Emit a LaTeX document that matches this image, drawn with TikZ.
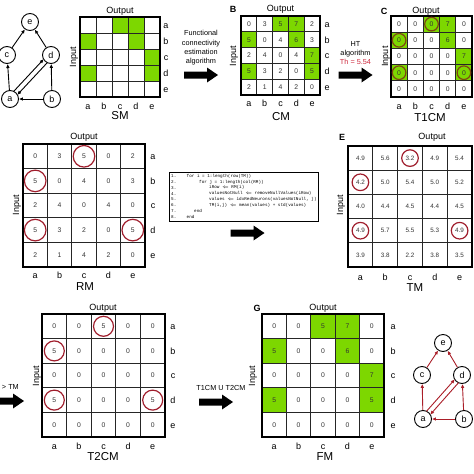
\documentclass[tikz,border=0pt]{standalone}
\usepackage{fontspec}
\setmainfont{Liberation Sans}
\newfontfamily\codefont{Liberation Mono}
\usetikzlibrary{calc,arrows.meta}
\definecolor{cellgreen}{RGB}{125,215,0}
\definecolor{ringred}{RGB}{160,30,45}
\definecolor{ringbrown}{RGB}{125,70,20}
\definecolor{thred}{RGB}{205,40,60}
\definecolor{edgered}{RGB}{170,30,40}
\newcommand\MatGreen[1]{\foreach \mc/\mr in {#1}{\fill[cellgreen] ({(\mc-1)*\mcw},{(\mr-1)*\mch}) rectangle ({\mc*\mcw},{\mr*\mch});}}
\newcommand\MatGrid{\foreach \k in {1,2,3,4}{\draw[innerline] ({\k*\mcw},0) -- ({\k*\mcw},{5*\mch}); \draw[innerline] (0,{\k*\mch}) -- ({5*\mcw},{\k*\mch});}\draw[outerline] (0,0) rectangle ({5*\mcw},{5*\mch});}
\newcommand\MatVals[3]{\foreach \mrow [count=\mr] in {#3}{\foreach \mv [count=\mc] in \mrow {\node[#2] (#1-\mr-\mc) at ({(\mc-0.5)*\mcw},{(\mr-0.5)*\mch}) {\mv};}}}
\newcommand\MatRings[3]{\foreach \mc/\mr in {#1}{\draw[#2] ({(\mc-0.5)*\mcw},{(\mr-0.5)*\mch}) circle (#3);}}
\newcommand\RowLabels[2]{\foreach \lab [count=\mr] in {a,b,c,d,e}{\node[axislab] (#1-r\mr) at (#2,{(\mr-0.5)*\mch}) {\lab};}}
\newcommand\ColLabels[2]{\foreach \lab [count=\mc] in {a,b,c,d,e}{\node[axislab] (#1-c\mc) at ({(\mc-0.5)*\mcw},#2) {\lab};}}
\tikzset{fatarrow/.pic={\fill[black] (-17,-3.5) -- (6,-3.5) -- (6,-7.5) -- (17,0) -- (6,7.5) -- (6,3.5) -- (-17,3.5) -- cycle;}}
\begin{document}
\begin{tikzpicture}[x=1pt,y=-1pt,
  cellnum/.style={font=\fontsize{6.8}{7}\selectfont,text=black!80,inner sep=0},
  tmnum/.style={font=\fontsize{6.3}{7}\selectfont,text=black!80,inner sep=0},
  axislab/.style={font=\fontsize{9}{10}\selectfont,inner sep=0,text height=6.6pt,text depth=0pt},
  titlelab/.style={font=\fontsize{9}{10}\selectfont,inner sep=0},
  matname/.style={font=\fontsize{11.5}{12}\selectfont,inner sep=0},
  panel/.style={font=\bfseries\fontsize{9}{10}\selectfont,inner sep=0},
  innerline/.style={line width=0.8pt,black!85},
  outerline/.style={line width=1.4pt,black},
  ring/.style={draw=ringred,line width=1.2pt},
  ringdark/.style={draw=ringbrown,line width=1.2pt},
  gnode/.style={circle,draw,fill=white,line width=0.9pt,minimum size=17pt,inner sep=0,font=\fontsize{9}{10}\selectfont},
  garrow/.style={line width=0.9pt,-{Latex[length=4pt,width=3.6pt]}},
  arrowtext/.style={font=\fontsize{7.3}{9.3}\selectfont,align=center,inner sep=0},
  codeline/.style={font=\codefont\fontsize{4.3}{5}\selectfont,anchor=west,inner sep=0},
]
\useasboundingbox (0,0) rectangle (474,474);
\clip (0,0) rectangle (474,474);
\fill[white] (0,0) rectangle (474,474);

% ---------- graph 1 ----------
\node[gnode] (g1e) at (30,22) {e};
\node[gnode] (g1c) at (7,55) {c};
\node[gnode] (g1d) at (51,55) {d};
\node[gnode] (g1a) at (10,99) {a};
\node[gnode] (g1b) at (52,99) {b};
\draw[garrow] (g1c) -- (g1e);
\draw[garrow] (g1d) -- (g1e);
\draw[garrow] (g1a) -- (g1c);
\draw[garrow] (g1b) -- (g1d);
\draw[garrow] (g1b) -- (g1a);
\draw[garrow,shorten <=8pt,shorten >=8pt] ($(g1a.center)!2.5pt!90:(g1d.center)$) -- ($(g1d.center)!2.5pt!-90:(g1a.center)$);
\draw[garrow,shorten <=8pt,shorten >=8pt] ($(g1d.center)!2.5pt!90:(g1a.center)$) -- ($(g1a.center)!2.5pt!-90:(g1d.center)$);

% ---------- SM ----------
\begin{scope}[shift={(80,17)}]
\def\mcw{16}\def\mch{16}
\MatGreen{3/1,4/1,1/2,4/2,5/3,1/4,5/4}
\MatGrid
\RowLabels{sm}{86}
\ColLabels{sm}{89}
\node[titlelab] (sm-out) at (40,-6) {Output};
\node[titlelab,rotate=90] (sm-in) at (-6,40) {Input};
\node[matname] (sm-name) at (40,99) {SM};
\end{scope}

\node[arrowtext] (txt1) at (201,48) {Functional\\connectivity\\estimation\\algorithm};
\pic (arr1) at (201,75) {fatarrow};

% ---------- CM ----------
\begin{scope}[shift={(241,16)}]
\def\mcw{15.8}\def\mch{15.8}
\MatGreen{3/1,4/1,1/2,4/2,5/3,1/4,5/4}
\MatGrid
\MatVals{cm}{cellnum}{{0,3,5,7,2},{5,0,4,6,3},{2,4,0,4,7},{5,3,2,0,5},{2,1,4,2,0}}
\RowLabels{cm}{86}
\ColLabels{cm}{87}
\node[titlelab] (cm-out) at (39.5,-6.5) {Output};
\node[titlelab,rotate=90] (cm-in) at (-7,40) {Input};
\node[matname] (cm-name) at (40,101) {CM};
\node[panel] (pB) at (-8,-7) {B};
\end{scope}

\node[arrowtext] (txt2) at (355.5,53) {HT\\algorithm\\{\color{thred}Th = 5.54}};
\pic (arr2) at (355.5,75) {fatarrow};

% ---------- T1CM ----------
\begin{scope}[shift={(391,16)}]
\def\mcw{16.2}\def\mch{16.2}
\MatGreen{3/1,4/1,1/2,4/2,5/3,1/4,5/4}
\MatGrid
\MatVals{tone}{cellnum}{{0,0,0,7,0},{0,0,0,6,0},{0,0,0,0,7},{0,0,0,0,0},{0,0,0,0,0}}
\MatRings{3/1,1/2,1/4,5/4}{ringdark}{6.8}
\ColLabels{tone}{90}
\node[titlelab] (tone-out) at (35,-5) {Output};
\node[titlelab,rotate=90] (tone-in) at (-5,40.5) {Input};
\node[matname] (tone-name) at (39,102) {T1CM};
\node[panel] (pC) at (-7,-5) {C};
\end{scope}

% ---------- RM ----------
\begin{scope}[shift={(23,144)}]
\def\mcw{24.4}\def\mch{24.6}
\MatGrid
\MatVals{rm}{cellnum}{{0,3,5,0,2},{5,0,4,0,3},{2,4,0,4,0},{5,3,2,0,5},{2,1,4,2,0}}
\MatRings{3/1,1/2,1/4,5/4}{ring}{10.8}
\RowLabels{rm}{130}
\ColLabels{rm}{131}
\node[titlelab] (rm-out) at (61,-7) {Output};
\node[titlelab,rotate=90] (rm-in) at (-6,61) {Input};
\node[matname] (rm-name) at (62,143) {RM};
\end{scope}

% ---------- code ----------
\node[draw,line width=0.8pt,minimum width=149pt,minimum height=49pt,inner sep=0] (codebox) at (243.5,196.5) {};
\foreach \n [count=\i] in {176,181.9,187.7,193.6,199.4,205.3,211.1,217}{\node[codeline] (ln\i) at (171,\n) {\i.};}
\node[codeline] (cl1) at (186.5,176) {for i = 1:length(row(TM))};
\node[codeline] (cl2) at (199,181.9) {for j = 1:length(col(RM))};
\node[codeline] (cl3) at (209,187.7) {iRow $\Leftarrow$ RM(i)};
\node[codeline] (cl4) at (209,193.6) {valuesNotNull $\Leftarrow$ removeNullValues(iRow)};
\node[codeline] (cl5) at (209,199.4) {values $\Leftarrow$ idxRedNeurons(valuesNotNull, j)};
\node[codeline] (cl6) at (209,205.3) {TM(i,j) $\Leftarrow$ mean(values) + std(values)};
\node[codeline] (cl7) at (194,211.1) {end};
\node[codeline] (cl8) at (186.5,217) {end};
\pic (arr3) at (247.5,233) {fatarrow};

% ---------- TM ----------
\begin{scope}[shift={(348,146)}]
\def\mcw{24.8}\def\mch{24.2}
\MatGrid
\MatVals{tm}{tmnum}{{4.9,5.6,3.2,4.9,5.4},{4.2,5.0,5.4,5.0,5.2},{4.0,4.4,4.5,4.4,4.5},{4.9,5.7,5.5,5.3,4.9},{3.9,3.8,2.2,3.8,3.5}}
\MatRings{3/1,1/2,1/4,5/4}{ring}{8.3}
\ColLabels{tm}{131}
\node[titlelab] (tm-out) at (84,-9) {Output};
\node[titlelab,rotate=90] (tm-in) at (-7,59) {Input};
\node[matname] (tm-name) at (67,142) {TM};
\node[panel] (pE) at (-6,-9) {E};
\end{scope}

% ---------- bottom row ----------
\node[arrowtext,anchor=east] (txt4) at (19,387) {> TM};
\pic (arr4) at (7,401) {fatarrow};

\begin{scope}[shift={(42,314)}]
\def\mcw{24.6}\def\mch{24.6}
\MatGrid
\MatVals{ttwo}{cellnum}{{0,0,5,0,0},{5,0,0,0,0},{0,0,0,0,0},{5,0,0,0,5},{0,0,0,0,0}}
\MatRings{3/1,1/2,1/4,5/4}{ring}{10}
\RowLabels{ttwo}{131}
\ColLabels{ttwo}{132}
\node[titlelab] (ttwo-out) at (61,-6) {Output};
\node[titlelab,rotate=90] (ttwo-in) at (-5,62) {Input};
\node[matname] (ttwo-name) at (61,143) {T2CM};
\end{scope}

\node[arrowtext] (txt5) at (221,388) {T1CM U T2CM};
\pic (arr5) at (216,402) {fatarrow};

\begin{scope}[shift={(262,314)}]
\def\mcw{24.4}\def\mch{24.6}
\MatGreen{3/1,4/1,1/2,4/2,5/3,1/4,5/4}
\MatGrid
\MatVals{fm}{cellnum}{{0,0,5,7,0},{5,0,0,6,0},{0,0,0,0,7},{5,0,0,0,5},{0,0,0,0,0}}
\RowLabels{fm}{131}
\ColLabels{fm}{132}
\node[titlelab] (fm-out) at (61,-6) {Output};
\node[titlelab,rotate=90] (fm-in) at (-9,62) {Input};
\node[matname] (fm-name) at (63,143) {FM};
\node[panel] (pG) at (-5,-6) {G};
\end{scope}

% ---------- graph 2 ----------
\begin{scope}[garrow/.append style={draw=edgered}]
\node[gnode] (g2e) at (443,343) {e};
\node[gnode] (g2c) at (422,375) {c};
\node[gnode] (g2d) at (462,375) {d};
\node[gnode] (g2a) at (423,419) {a};
\node[gnode] (g2b) at (464,419) {b};
\draw[garrow] (g2c) -- (g2e);
\draw[garrow] (g2d) -- (g2e);
\draw[garrow] (g2a) -- (g2c);
\draw[garrow] (g2b) -- (g2d);
\draw[garrow] (g2b) -- (g2a);
\draw[garrow,shorten <=8pt,shorten >=8pt] ($(g2a.center)!2.5pt!90:(g2d.center)$) -- ($(g2d.center)!2.5pt!-90:(g2a.center)$);
\draw[garrow,shorten <=8pt,shorten >=8pt] ($(g2d.center)!2.5pt!90:(g2a.center)$) -- ($(g2a.center)!2.5pt!-90:(g2d.center)$);
\end{scope}
\end{tikzpicture}
\end{document}
